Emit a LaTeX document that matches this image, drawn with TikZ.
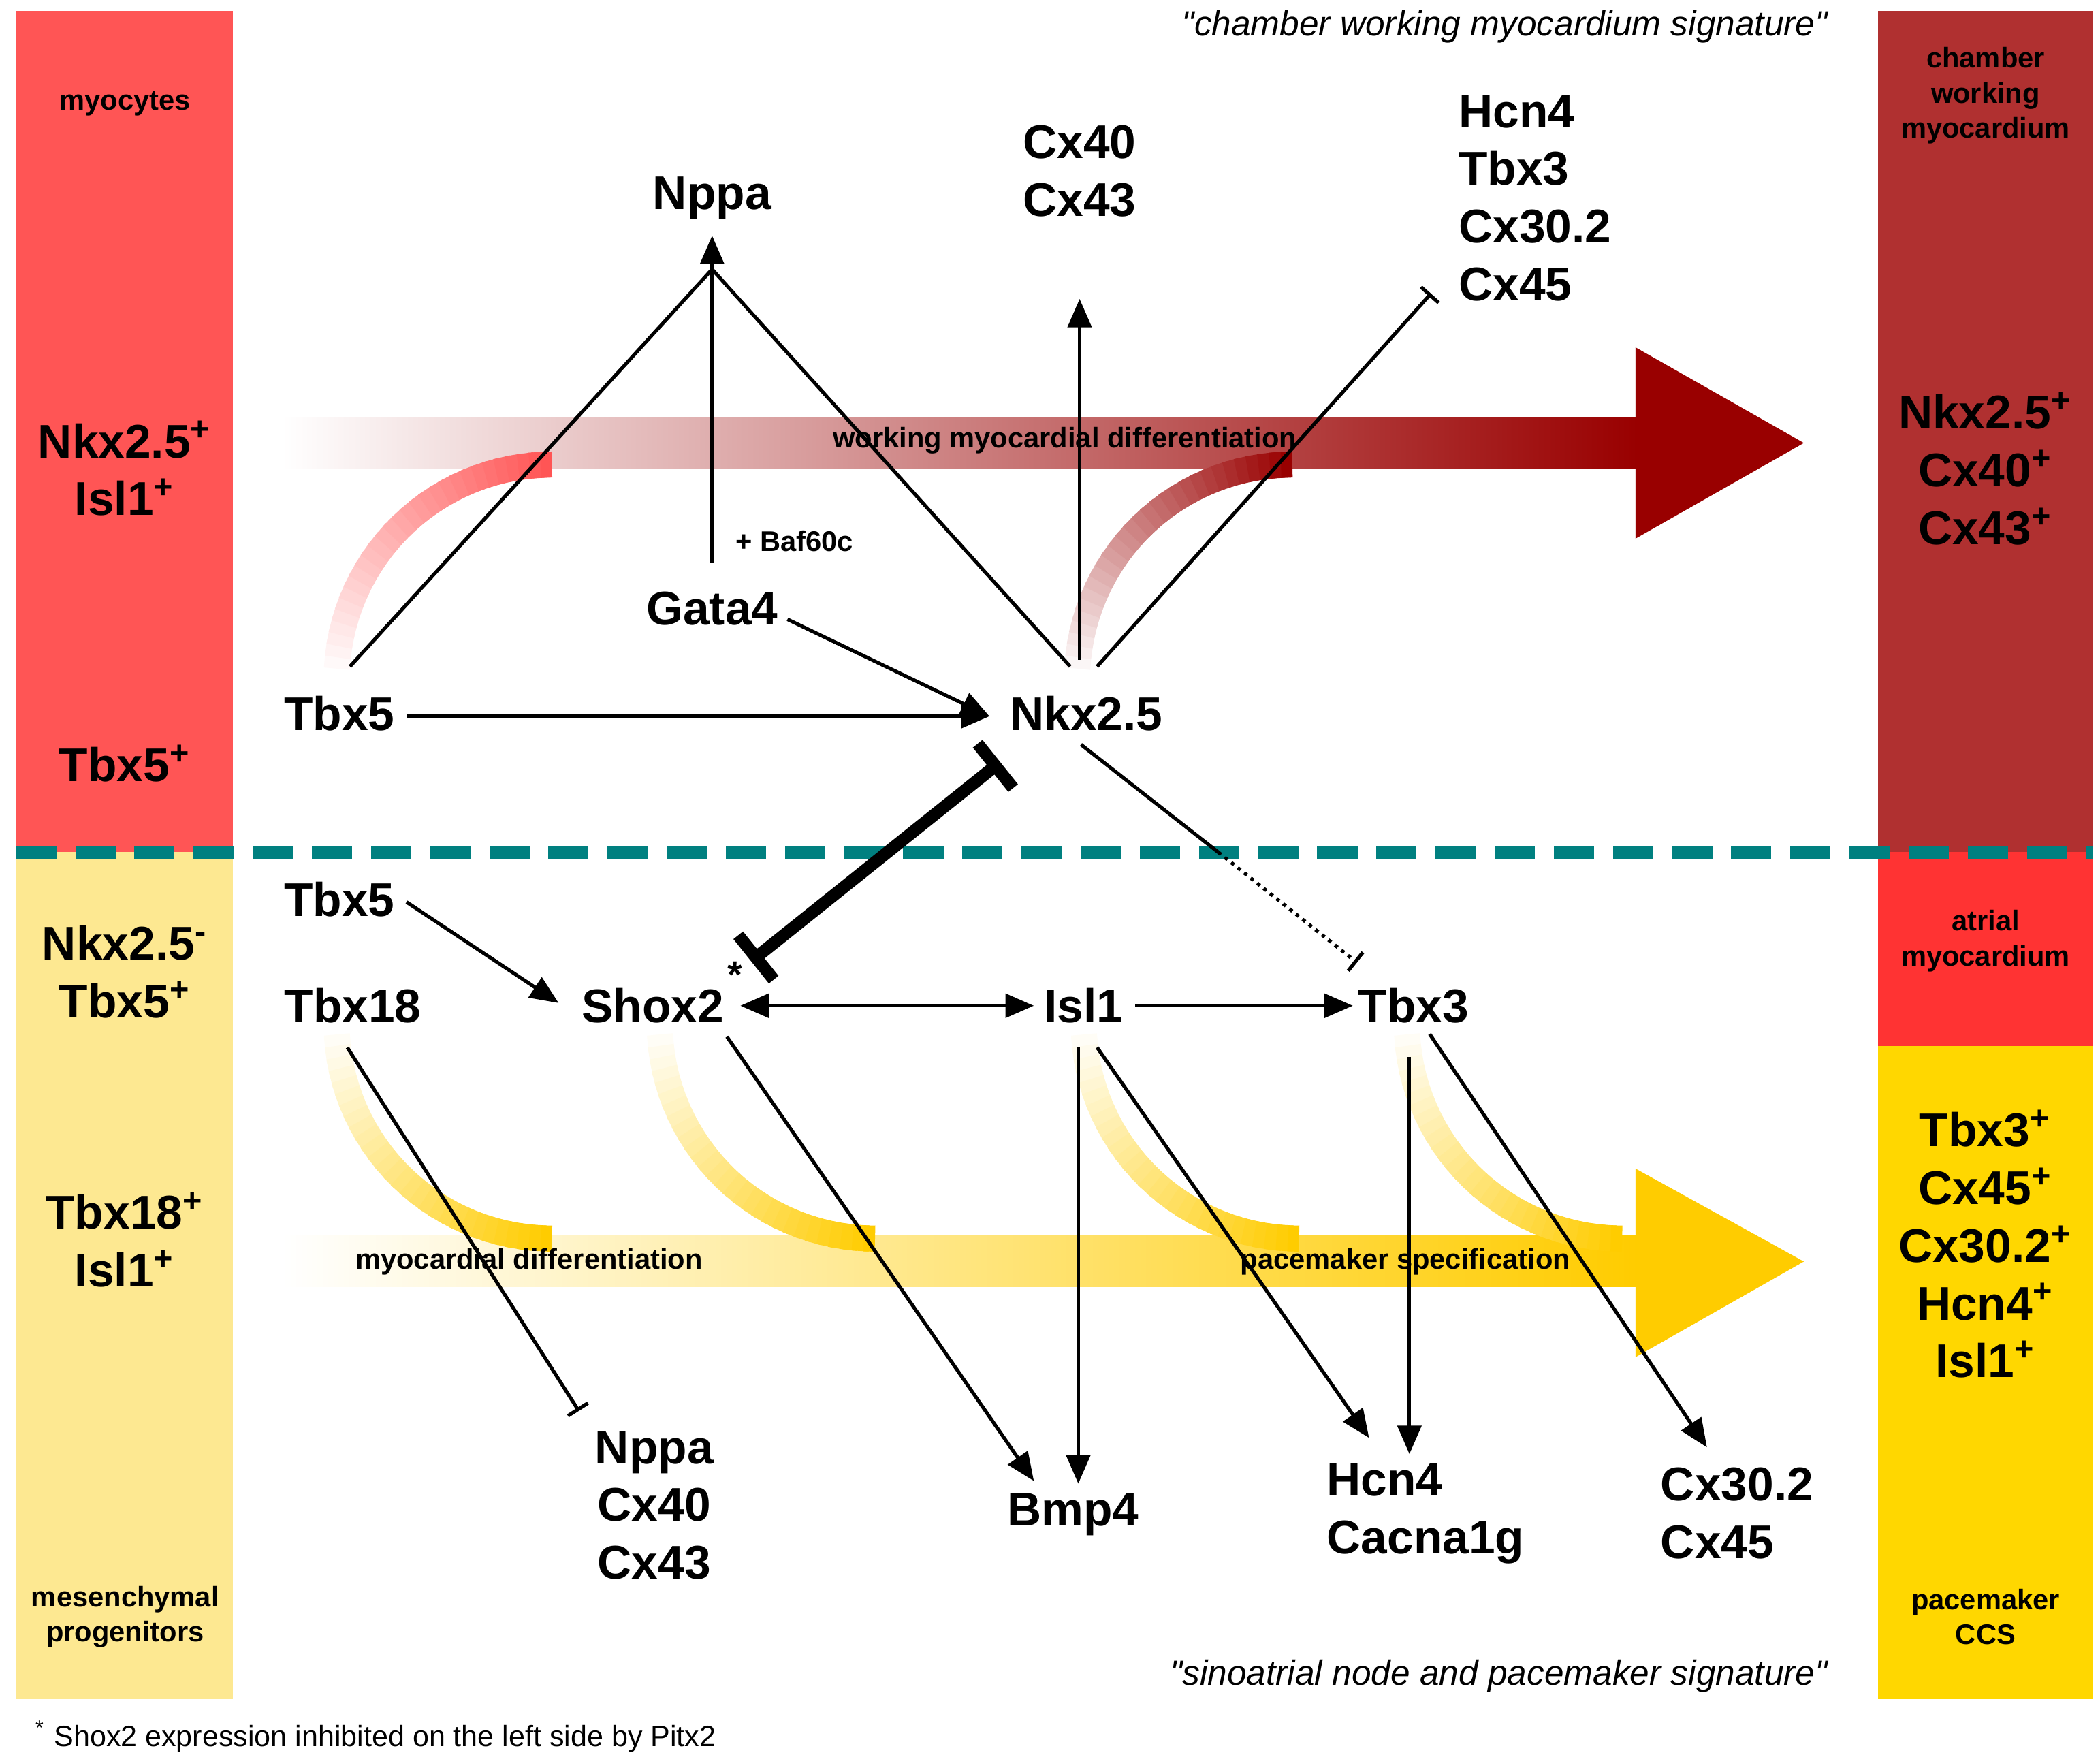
\documentclass[tikz,border=0pt]{standalone}
\usepackage{fontspec}
\setmainfont{Liberation Sans}
\usetikzlibrary{arrows.meta}
\definecolor{colA}{RGB}{255,85,85}
\definecolor{colB}{RGB}{253,232,145}
\definecolor{colC}{RGB}{176,48,48}
\definecolor{colD}{RGB}{255,51,51}
\definecolor{colE}{RGB}{255,215,0}
\definecolor{dred}{RGB}{153,0,0}
\definecolor{gold}{RGB}{255,204,0}
\definecolor{teal2}{RGB}{0,128,128}
\newcommand{\supx}[1]{\textsuperscript{#1}}
\tikzset{
  big/.style={font=\bfseries\fontsize{10}{12.2}\selectfont, align=center},
  bigl/.style={font=\bfseries\fontsize{10}{12.2}\selectfont, align=left, anchor=west, inner sep=0pt},
  small/.style={font=\bfseries\fontsize{6}{7.4}\selectfont, align=center},
  conn/.style={line width=0.75pt},
  act/.style={conn, -{Triangle[length=6pt,width=5pt]}},
  inh/.style={conn, -{Bar[width=5pt]}},
}
\begin{document}
\begin{tikzpicture}[x=0.1mm,y=-0.1mm]
\useasboundingbox (0,0) rectangle (1560,1305);
% columns
\fill[colA] (12,8) rectangle (173,633);
\fill[colB] (12,633) rectangle (173,1262);
\fill[colC] (1395,8) rectangle (1555,633);
\fill[colD] (1395,633) rectangle (1555,777);
\fill[colE] (1395,777) rectangle (1555,1262);
% big arrows
\shade[left color=white, right color=dred] (210,310) rectangle (1216,348);
\fill[dred] (1215,258) -- (1340,329) -- (1215,400) -- cycle;
\shade[left color=white, right color=gold] (210,918) rectangle (1216,956);
\fill[gold] (1215,868) -- (1340,937) -- (1215,1008) -- cycle;
% curved shaded arcs (s=-1 bends up, s=1 bends down)
\foreach \cx/\cy/\s/\c in {410/505/-1/colA, 960/505/-1/dred,
  410/760/1/gold, 650/760/1/gold, 965/760/1/gold, 1205/760/1/gold}{
  \foreach \i in {0,...,29}{
    \pgfmathsetmacro{\a}{180-90*\i/30}
    \pgfmathsetmacro{\b}{max(90,180-90*(\i+1.5)/30)}
    \pgfmathsetmacro{\p}{\i*100/29}
    \draw[line width=5.5pt, \c!\p!white]
      ({\cx+160*cos(\a)},{\cy+\s*160*sin(\a)}) -- ({\cx+160*cos(\b)},{\cy+\s*160*sin(\b)});
  }
}
\node[small] at (791,327) {working myocardial differentiation};
\node[small] at (393,937) {myocardial differentiation};
\node[small] at (1044,937) {pacemaker specification};
% dashed separator
\draw[teal2, line width=2.8pt, dash pattern=on 8.5pt off 4pt] (12,633) -- (1555,633);
% column texts
\node[small] at (93,77) {myocytes};
\node[big] at (93,348) {Nkx2.5\supx{+}\\Isl1\supx{+}};
\node[big] at (93,567) {Tbx5\supx{+}};
\node[big] at (93,722) {Nkx2.5\supx{-}\\Tbx5\supx{+}};
\node[big] at (93,921) {Tbx18\supx{+}\\Isl1\supx{+}};
\node[small] at (93,1201) {mesenchymal\\progenitors};
\node[small] at (1475,71) {chamber\\working\\myocardium};
\node[big] at (1475,348) {Nkx2.5\supx{+}\\Cx40\supx{+}\\Cx43\supx{+}};
\node[small] at (1475,699) {atrial\\myocardium};
\node[big] at (1475,924) {Tbx3\supx{+}\\Cx45\supx{+}\\Cx30.2\supx{+}\\Hcn4\supx{+}\\Isl1\supx{+}};
\node[small] at (1475,1201) {pacemaker\\CCS};
\node[font=\itshape\fontsize{7.4}{9}\selectfont, anchor=east] at (1370,20) {\textquotedbl chamber working myocardium signature\textquotedbl};
\node[font=\itshape\fontsize{7.4}{9}\selectfont, anchor=east] at (1370,1245) {\textquotedbl sinoatrial node and pacemaker signature\textquotedbl};
\node[font=\fontsize{6.2}{8}\selectfont, anchor=west] at (14,1290) {\supx{*} Shox2 expression inhibited on the left side by Pitx2};
% gene nodes (top)
\node[big] (nppa) at (529,147) {Nppa};
\node[big] (cx4043) at (802,127) {Cx40\\Cx43};
\node[bigl] (hcn) at (1083,147) {Hcn4\\Tbx3\\Cx30.2\\Cx45};
\node[big] (gata4) at (529,452) {Gata4};
\node[small, anchor=west] (baf) at (534,402) {+ Baf60c};
\node[big] (tbx5a) at (252,530) {Tbx5};
\node[big] (nkx) at (807,530) {Nkx2.5};
% gene nodes (bottom)
\node[big] (tbx5b) at (252,668) {Tbx5};
\node[big] (tbx18) at (262,747) {Tbx18};
\node[big] (shox2) at (485,747) {Shox2};
\node[font=\bfseries\fontsize{8}{9}\selectfont] (star) at (546,724) {*};
\node[big] (isl1) at (805,747) {Isl1};
\node[big] (tbx3) at (1050,747) {Tbx3};
\node[big] (nppab) at (486,1118) {Nppa\\Cx40\\Cx43};
\node[big] (bmp4) at (797,1125) {Bmp4};
\node[bigl] (hcnb) at (985,1124) {Hcn4\\Cacna1g};
\node[bigl] (cx30b) at (1233,1124) {Cx30.2\\Cx45};
% coordinates
\coordinate (apex) at (529,200);
\coordinate (tbx5up) at (260,495);
\coordinate (nkxup) at (795,495);
\coordinate (gatabot) at (529,418);
\coordinate (nppatip) at (529,175);
\coordinate (nkxtop) at (802,490);
\coordinate (cxtip) at (802,222);
\coordinate (nkxr) at (815,495);
\coordinate (hcnbar) at (1063,218);
\coordinate (tbx5r) at (302,532);
\coordinate (nkxl) at (735,532);
\coordinate (gatar) at (585,460);
\coordinate (nkxbar) at (743,566);
\coordinate (shoxbar) at (558,714);
\coordinate (nkxlow) at (803,553);
\coordinate (midd) at (905,633);
\coordinate (tbx3bar) at (1008,715);
% top connectors
\draw[conn] (tbx5up) -- (apex) -- (nkxup);
\draw[act] (gatabot) -- (nppatip);
\draw[act] (nkxtop) -- (cxtip);
\draw[inh] (nkxr) -- (hcnbar);
\draw[act] (tbx5r) -- (nkxl);
\draw[act] (gatar) -- (nkxl);
\draw[line width=2.6pt, {Bar[width=12pt]}-{Bar[width=12pt]}] (nkxbar) -- (shoxbar);
\draw[conn] (nkxlow) -- (midd);
\draw[conn, densely dotted, -{Bar[width=5pt]}] (midd) -- (tbx3bar);
% bottom connectors
\coordinate (t5r) at (302,670);
\coordinate (shl) at (415,745);
\coordinate (shr) at (550,747);
\coordinate (isl) at (768,747);
\coordinate (isr) at (843,747);
\coordinate (t3l) at (1005,747);
\draw[act] (t5r) -- (shl);
\draw[conn, {Triangle[length=6pt,width=5pt]}-{Triangle[length=6pt,width=5pt]}] (shr) -- (isl);
\draw[act] (isr) -- (t3l);
\coordinate (a1) at (258,778); \coordinate (b1) at (430,1048);
\coordinate (a2) at (540,770); \coordinate (b2) at (768,1100);
\coordinate (a3) at (801,778); \coordinate (b3) at (801,1102);
\coordinate (a4) at (815,778); \coordinate (b4) at (1017,1068);
\coordinate (a5) at (1047,785); \coordinate (b5) at (1047,1080);
\coordinate (a6) at (1062,768); \coordinate (b6) at (1268,1075);
\draw[inh] (a1) -- (b1);
\draw[act] (a2) -- (b2);
\draw[act] (a3) -- (b3);
\draw[act] (a4) -- (b4);
\draw[act] (a5) -- (b5);
\draw[act] (a6) -- (b6);
\end{tikzpicture}
\end{document}
